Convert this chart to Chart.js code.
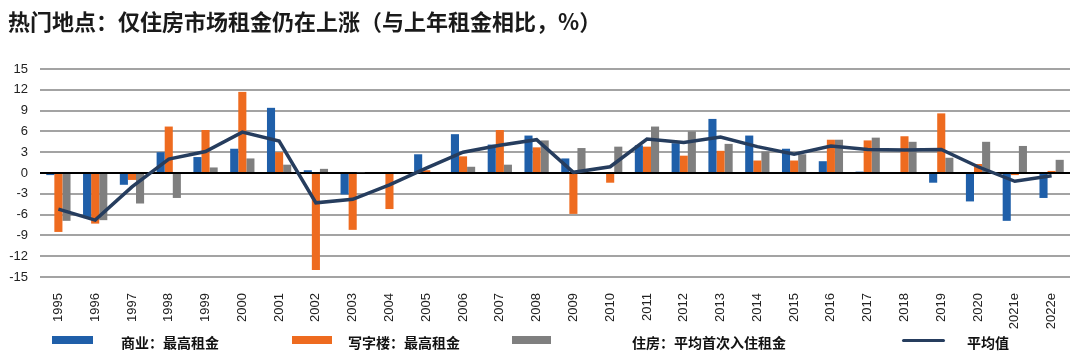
<!DOCTYPE html>
<html>
<head>
<meta charset="utf-8">
<script src="https://cdn.jsdelivr.net/npm/chart.js@4"></script>
<style>
  body { margin: 0; background: #fff; }
  #wrap { position: relative; width: 1080px; height: 358px; }
  #title {
    position: absolute; left: 8px; top: 6px;
    font: bold 22px "Noto Sans CJK SC", sans-serif; color: #1a1a1a;
    line-height: 28px; white-space: nowrap;
  }
  .key { position: absolute; top: 332px; height: 20px; }
  .key .sw { position: absolute; top: 4px; height: 8px; }
  .key .sw.line { top: 7px; height: 3px; border-radius: 2px; }
  .key .tx {
    position: absolute; top: 0; line-height: 20px; white-space: nowrap;
    font: bold 14px "Noto Sans CJK SC", sans-serif; color: #111;
  }
</style>
</head>
<body>
<div id="wrap">
  <canvas id="chart" width="1080" height="358"></canvas>
  <div id="title">热门地点：仅住房市场租金仍在上涨（与上年租金相比，%）</div>
  <div id="legend"></div>
</div>
<script>
'use strict'

const years = ['1995', '1996', '1997', '1998', '1999', '2000', '2001', '2002', '2003', '2004',
    '2005', '2006', '2007', '2008', '2009', '2010', '2011', '2012', '2013', '2014',
    '2015', '2016', '2017', '2018', '2019', '2020', '2021e', '2022e'];

const retailTop = [-0.3, -6.5, -1.7, 3.0, 2.3, 3.5, 9.4, 0.4, -3.1, 0,
    2.7, 5.6, 4.1, 5.4, 2.1, 0, 4.0, 4.3, 7.8, 5.4,
    3.5, 1.7, 0.2, 0, -1.4, -4.1, -6.9, -3.6];

const officeTop = [-8.5, -7.3, -1.0, 6.7, 6.2, 11.7, 3.0, -14.0, -8.2, -5.2,
    0.4, 2.4, 6.2, 3.7, -5.9, -1.4, 3.8, 2.5, 3.2, 1.8,
    1.8, 4.8, 4.7, 5.3, 8.6, 1.3, -0.3, 0.3];

const housingFirst = [-6.9, -6.8, -4.4, -3.6, 0.8, 2.1, 1.2, 0.6, 0.1, 0,
    0, 0.9, 1.2, 4.7, 3.6, 3.8, 6.7, 6.0, 4.2, 3.1,
    2.7, 4.8, 5.1, 4.5, 2.2, 4.5, 3.9, 1.9];

const average = [-5.2, -6.8, -2.0, 2.0, 3.1, 5.9, 4.6, -4.3, -3.8, -1.7,
    0.7, 3.0, 4.0, 4.8, 0.1, 0.9, 4.9, 4.4, 5.2, 3.8,
    2.7, 3.9, 3.4, 3.3, 3.4, 0.9, -1.2, -0.4];

const yTicks = [-15, -12, -9, -6, -3, 0, 3, 6, 9, 12, 15];

const names = ['商业：最高租金', '写字楼：最高租金', '住房：平均首次入住租金', '平均值'];
const colors = ['#1f5fa9', '#ee6b1f', '#7f7f7f', '#263d5e'];

// legend slots as laid out in the source picture
const keySlots = [
    { left: 52, sw: 41, gap: 28 },
    { left: 292, sw: 40, gap: 16 },
    { left: 512, sw: 39, gap: 81 },
    { left: 902, sw: 43, gap: 22 },
];

(function buildLegend() {
    const box = document.getElementById('legend');
    names.forEach((name, i) => {
        const s = keySlots[i];
        const key = document.createElement('div');
        key.className = 'key';
        key.style.left = s.left + 'px';
        const sw = document.createElement('div');
        sw.className = 'sw' + (i === 3 ? ' line' : '');
        sw.style.width = s.sw + 'px';
        sw.style.background = colors[i];
        const tx = document.createElement('div');
        tx.className = 'tx';
        tx.style.left = (s.sw + s.gap) + 'px';
        tx.textContent = name;
        key.appendChild(sw);
        key.appendChild(tx);
        box.appendChild(key);
    });
})();

function barSet(label, data, color) {
    return {
        type: 'bar',
        label: label,
        data: data,
        backgroundColor: color,
        borderWidth: 0,
        order: 1,
        categoryPercentage: 0.66,
        barPercentage: 1.0,
    };
}

new Chart(document.getElementById('chart').getContext('2d'), {
    data: {
        labels: years,
        datasets: [
            barSet(names[0], retailTop, colors[0]),
            barSet(names[1], officeTop, colors[1]),
            barSet(names[2], housingFirst, colors[2]),
            {
                type: 'line',
                label: names[3],
                data: average,
                borderColor: colors[3],
                borderWidth: 3.5,
                pointRadius: 0,
                tension: 0,
                order: 0,
            }
        ]
    },
    options: {
        responsive: false,
        animation: false,
        layout: { padding: { top: 69, right: 10, left: 0, bottom: 0 } },
        plugins: {
            legend: { display: false },
            title: { display: false },
            tooltip: { enabled: false },
        },
        scales: {
            x: {
                grid: { display: false },
                border: { display: false },
                ticks: {
                    minRotation: 90,
                    maxRotation: 90,
                    padding: 8,
                    color: '#222',
                    font: { family: 'Liberation Sans, Arial, sans-serif', size: 13 },
                },
                afterFit: s => { s.height = 81; },
            },
            y: {
                min: -15,
                max: 15,
                afterBuildTicks: s => { s.ticks = yTicks.map(v => ({ value: v })); },
                grid: {
                    drawTicks: false,
                    lineWidth: 2,
                    color: c => c.tick && c.tick.value === 0 ? '#000000' : '#a3a3a3',
                },
                border: { display: false },
                ticks: {
                    padding: 12,
                    color: '#222',
                    font: { family: 'Liberation Sans, Arial, sans-serif', size: 13 },
                },
                afterFit: s => { s.width = 40; },
            }
        }
    }
});
</script>
</body>
</html>
